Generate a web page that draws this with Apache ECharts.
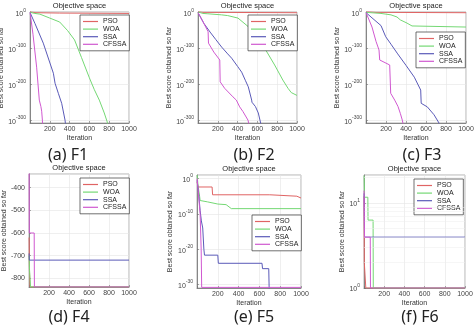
<!DOCTYPE html>
<html><head><meta charset="utf-8">
<script src="https://cdn.jsdelivr.net/npm/echarts@6/dist/echarts.min.js"></script>
<style>html,body{margin:0;padding:0;background:#fff}#c{width:474px;height:327px}</style>
</head><body><div id="c"></div>
<script>
// ---------- text ----------
const seriesNames = ['PSO', 'WOA', 'SSA', 'CFSSA'];
const xTickLabels = [200, 400, 600, 800, 1000];
const panelCaptions = ['(a) F1', '(b) F2', '(c) F3', '(d) F4', '(e) F5', '(f) F6'];
const panelTitle = 'Objective space';
const yAxisTitle = 'Best score obtained so far';
const xAxisTitle = 'Iteration';

// ---------- data: [iteration, best score] ----------
const f1_PSO = [[1,1e3],[10,1e1],[60,1e0],[300,1e-1],[1000,1e-2]];
const f1_WOA = [[1,1e1],[50,1e-2],[100,1e-4],[200,1e-15],[300,1e-26],[380,1e-50],[450,1e-76],[520,1e-125],[600,1e-182],[650,1e-215],[700,1e-244],[750,1e-280],[780,1e-305],[790,1e-320]];
const f1_SSA = [[1,1e0],[50,1e-30],[134,1e-85],[236,1e-169],[245,1e-172],[253,1e-197],[286,1e-225],[320,1e-253],[354,1e-300],[362,1e-320]];
const f1_CFSSA = [[1,1e0],[30,1e-60],[67,1e-152],[94,1e-244],[110,1e-262],[118,1e-275],[125,1e-300],[128,1e-320]];

const f2_PSO = [[1,1e4],[10,1e2],[50,1e1],[1000,1e0]];
const f2_WOA = [[1,1e2],[50,1e-2],[100,1e-3],[239,1e-6],[300,1e-8],[404,1e-15],[508,1e-39],[572,1e-58],[673,1e-99],[774,1e-146],[857,1e-188],[909,1e-211],[942,1e-223],[1000,1e-231]];
const f2_SSA = [[1,1e0],[60,1e-30],[122,1e-54],[180,1e-75],[239,1e-96],[300,1e-115],[340,1e-127],[400,1e-150],[441,1e-166],[480,1e-190],[508,1e-207],[542,1e-244],[545,1e-250],[580,1e-262],[609,1e-280],[643,1e-320]];
const f2_CFSSA = [[1,1e0],[50,1e-25],[102,1e-53],[106,1e-85],[160,1e-110],[220,1e-132],[224,1e-193],[269,1e-211],[353,1e-235],[387,1e-244],[421,1e-263],[454,1e-276],[505,1e-300],[522,1e-320]];

const f3_PSO = [[1,1e4],[20,1e2],[100,1e1],[1000,1e0]];
const f3_WOA = [[1,1e1],[100,1e-1],[150,1e-2],[250,1e-6],[310,1e-12],[343,1e-20],[410,1e-29],[460,1e-37],[480,1e-40],[1000,1e-40]];
const f3_SSA = [[1,1e0],[50,1e-12],[100,1e-24],[150,1e-36],[197,1e-67],[250,1e-88],[317,1e-115],[400,1e-147],[483,1e-180],[547,1e-216],[552,1e-253],[613,1e-263],[680,1e-285],[730,1e-308],[735,1e-320]];
const f3_CFSSA = [[1,1e0],[60,1e-40],[100,1e-80],[130,1e-104],[137,1e-132],[237,1e-146],[247,1e-225],[287,1e-244],[320,1e-262],[343,1e-281],[363,1e-300],[378,1e-320]];

const f4_PSO = [[1,-620],[4,-760],[10,-837.9658],[1000,-837.9658]];
const f4_WOA = [[1,-700],[5,-760],[15,-837.9658],[1000,-837.9658]];
const f4_SSA = [[1,-690],[3,-719.5271],[1000,-719.5271]];
const f4_CFSSA = [[1,-300],[3,-600],[52,-600],[54,-837.9658],[1000,-837.9658]];

const f5_PSO = [[1,1e-1],[10,4e-3],[145,4e-3],[150,2.5e-5],[700,2.5e-5],[705,1e-5],[960,1e-5],[965,3e-6],[1000,3e-6]];
const f5_WOA = [[1,10],[10,1e-2],[25,1e-5],[30,6e-7],[100,2.5e-7],[110,1e-7],[200,6e-8],[280,4e-8],[330,3e-9],[1000,3e-9]];
const f5_SSA = [[1,3e-1],[15,1e-4],[30,1e-9],[42,1e-12],[48,3e-13],[55,1e-14],[62,1e-14],[66,1e-20],[72,2e-22],[200,2e-22],[205,1e-24],[625,1e-24],[630,3e-26],[690,3e-26],[695,1e-33]];
const f5_CFSSA = [[1,1],[10,1e-3],[30,1e-10],[40,1e-20],[45,1.5e-31],[1000,1.5e-31]];

const f6_PSO = [[1,12],[3,2.0],[18,0.998],[1000,0.998]];
const f6_WOA = [[1,21],[5,11.7],[38,11.7],[40,6.3],[90,6.3],[92,0.998],[1000,0.998]];
const f6_SSA = [[1,13],[5,3.968],[1000,3.968]];
const f6_CFSSA = [[1,14],[5,3.968],[62,3.968],[64,0.998],[1000,0.998]];
const f6_minorGrid = [2,3,4,5,6,7,8,9,20];

// ---------- styles / layout ----------
const seriesColors = ['#e06464', '#74d874', '#5a5ab8', '#d058d0'];
const FONT = '"Liberation Sans", Arial, sans-serif';
const panels = [
  {data:[f1_PSO,f1_WOA,f1_SSA,f1_CFSSA], log:true, yMin:-308, yMax:2, split:3, showMin:false, grid:{left:30,top:12,width:99,height:111}, leg:[80,15], cap:[68,155], nameGap:25},
  {data:[f2_PSO,f2_WOA,f2_SSA,f2_CFSSA], log:true, yMin:-308, yMax:2, split:3, showMin:false, grid:{left:198,top:12,width:99,height:111}, leg:[248,15], cap:[254,155], nameGap:25},
  {data:[f3_PSO,f3_WOA,f3_SSA,f3_CFSSA], log:true, yMin:-308, yMax:2, split:3, showMin:false, grid:{left:366,top:12,width:100,height:111}, leg:[416,32], cap:[422,155], nameGap:25},
  {data:[f4_PSO,f4_WOA,f4_SSA,f4_CFSSA], log:false, yMin:-838, yMax:-340, split:5, showMin:false, grid:{left:29,top:174,width:100,height:113}, leg:[80,178], cap:[69,317], nameGap:21},
  {data:[f5_PSO,f5_WOA,f5_SSA,f5_CFSSA], log:true, yMin:-31, yMax:1, split:3, showMin:false, grid:{left:197,top:175,width:104,height:113}, leg:[252,215], cap:[254,317], nameGap:23},
  {data:[f6_PSO,f6_WOA,f6_SSA,f6_CFSSA], log:true, yMin:0, yMax:1.33, interval:1, showMin:true, grid:{left:364,top:175,width:101,height:113}, leg:[414,179], cap:[420,317], nameGap:17, minor:f6_minorGrid}
];

const option = {animation:false, grid:[], xAxis:[], yAxis:[], series:[], legend:[], graphic:[]};
const axisColor = '#6e6e6e';
panels.forEach((p, i) => {
  option.grid.push(Object.assign({show:true, borderColor:'#a0a0a0', borderWidth:0.8, backgroundColor:'#fff', containLabel:false, outerBoundsMode:'none'}, p.grid));
  option.xAxis.push({
    gridIndex:i, type:'value', min:0, max:1000, interval:200,
    name:xAxisTitle, nameLocation:'middle', nameGap:12,
    nameTextStyle:{fontSize:7, fontFamily:FONT, color:'#333'},
    axisLine:{show:true, onZero:false, lineStyle:{color:axisColor, width:0.8}},
    axisTick:{show:true, inside:true, length:2, lineStyle:{color:axisColor, width:0.6}},
    axisLabel:{fontSize:7, fontFamily:FONT, color:'#444', margin:3, formatter:v => xTickLabels.includes(v) ? String(v) : ''},
    splitLine:{show:true, lineStyle:{color:'#e4e4e4', width:0.6}}
  });
  const y = {
    gridIndex:i, type:'value', min:p.yMin, max:p.yMax,
    name:yAxisTitle, nameLocation:'middle', nameGap:p.nameGap,
    nameTextStyle:{fontSize:7, fontFamily:FONT, color:'#333'},
    axisLine:{show:true, onZero:false, lineStyle:{color:axisColor, width:0.8}},
    axisTick:{show:true, inside:true, length:2, lineStyle:{color:axisColor, width:0.6}},
    axisLabel:{fontSize:7, fontFamily:FONT, color:'#444', margin:4, showMinLabel:p.showMin, showMaxLabel:false},
    splitLine:{show:true, lineStyle:{color:'#e4e4e4', width:0.6}}
  };
  if (p.interval) y.interval = p.interval; else y.splitNumber = p.split;
  if (p.log) {
    y.axisLabel.formatter = v => `{b|10}{s|${Math.round(v)}}`;
    y.axisLabel.rich = {
      b:{fontSize:7, fontFamily:FONT, color:'#444', lineHeight:10, verticalAlign:'bottom'},
      s:{fontSize:5, fontFamily:FONT, color:'#444', lineHeight:6, verticalAlign:'top'}
    };
  }
  option.yAxis.push(y);
  p.data.forEach((d, k) => {
    const s = {
      type:'line', name:seriesNames[k], xAxisIndex:i, yAxisIndex:i, symbol:'none',
      data: p.log ? d.map(([x, v]) => [x, Math.log10(v)]) : d,
      lineStyle:{width:1, color:seriesColors[k]}, itemStyle:{color:seriesColors[k]},
      clip:true, z:2 + k
    };
    if (k === 0 && p.minor) {
      s.markLine = {silent:true, symbol:'none', label:{show:false},
        lineStyle:{color:'#ececec', width:0.5, type:'solid'},
        data:p.minor.map(m => ({yAxis:Math.log10(m)}))};
    }
    option.series.push(s);
  });
  option.legend.push({
    orient:'vertical', left:p.leg[0], top:p.leg[1], data:seriesNames, selectedMode:false,
    icon:'rect', itemWidth:15, itemHeight:1.2, itemGap:0.6, padding:[3,3,3,3],
    backgroundColor:'#fff', borderColor:'#333', borderWidth:0.7,
    textStyle:{fontSize:7, lineHeight:7, fontFamily:FONT, color:'#222'}
  });
  const cx = p.grid.left + p.grid.width / 2;
  option.graphic.push({type:'text', x:cx, y:p.grid.top - 6,
    style:{text:panelTitle, fontSize:7.5, fontFamily:FONT, fill:'#222', align:'center', verticalAlign:'middle'}});
  option.graphic.push({type:'text', x:p.cap[0], y:p.cap[1],
    style:{text:panelCaptions[i], fontSize:16, fontFamily:'"Noto Sans", sans-serif', fill:'#222', align:'center', verticalAlign:'middle'}});
});

const chart = echarts.init(document.getElementById('c'), null, {renderer:'canvas'});
chart.setOption(option);
</script></body></html>
